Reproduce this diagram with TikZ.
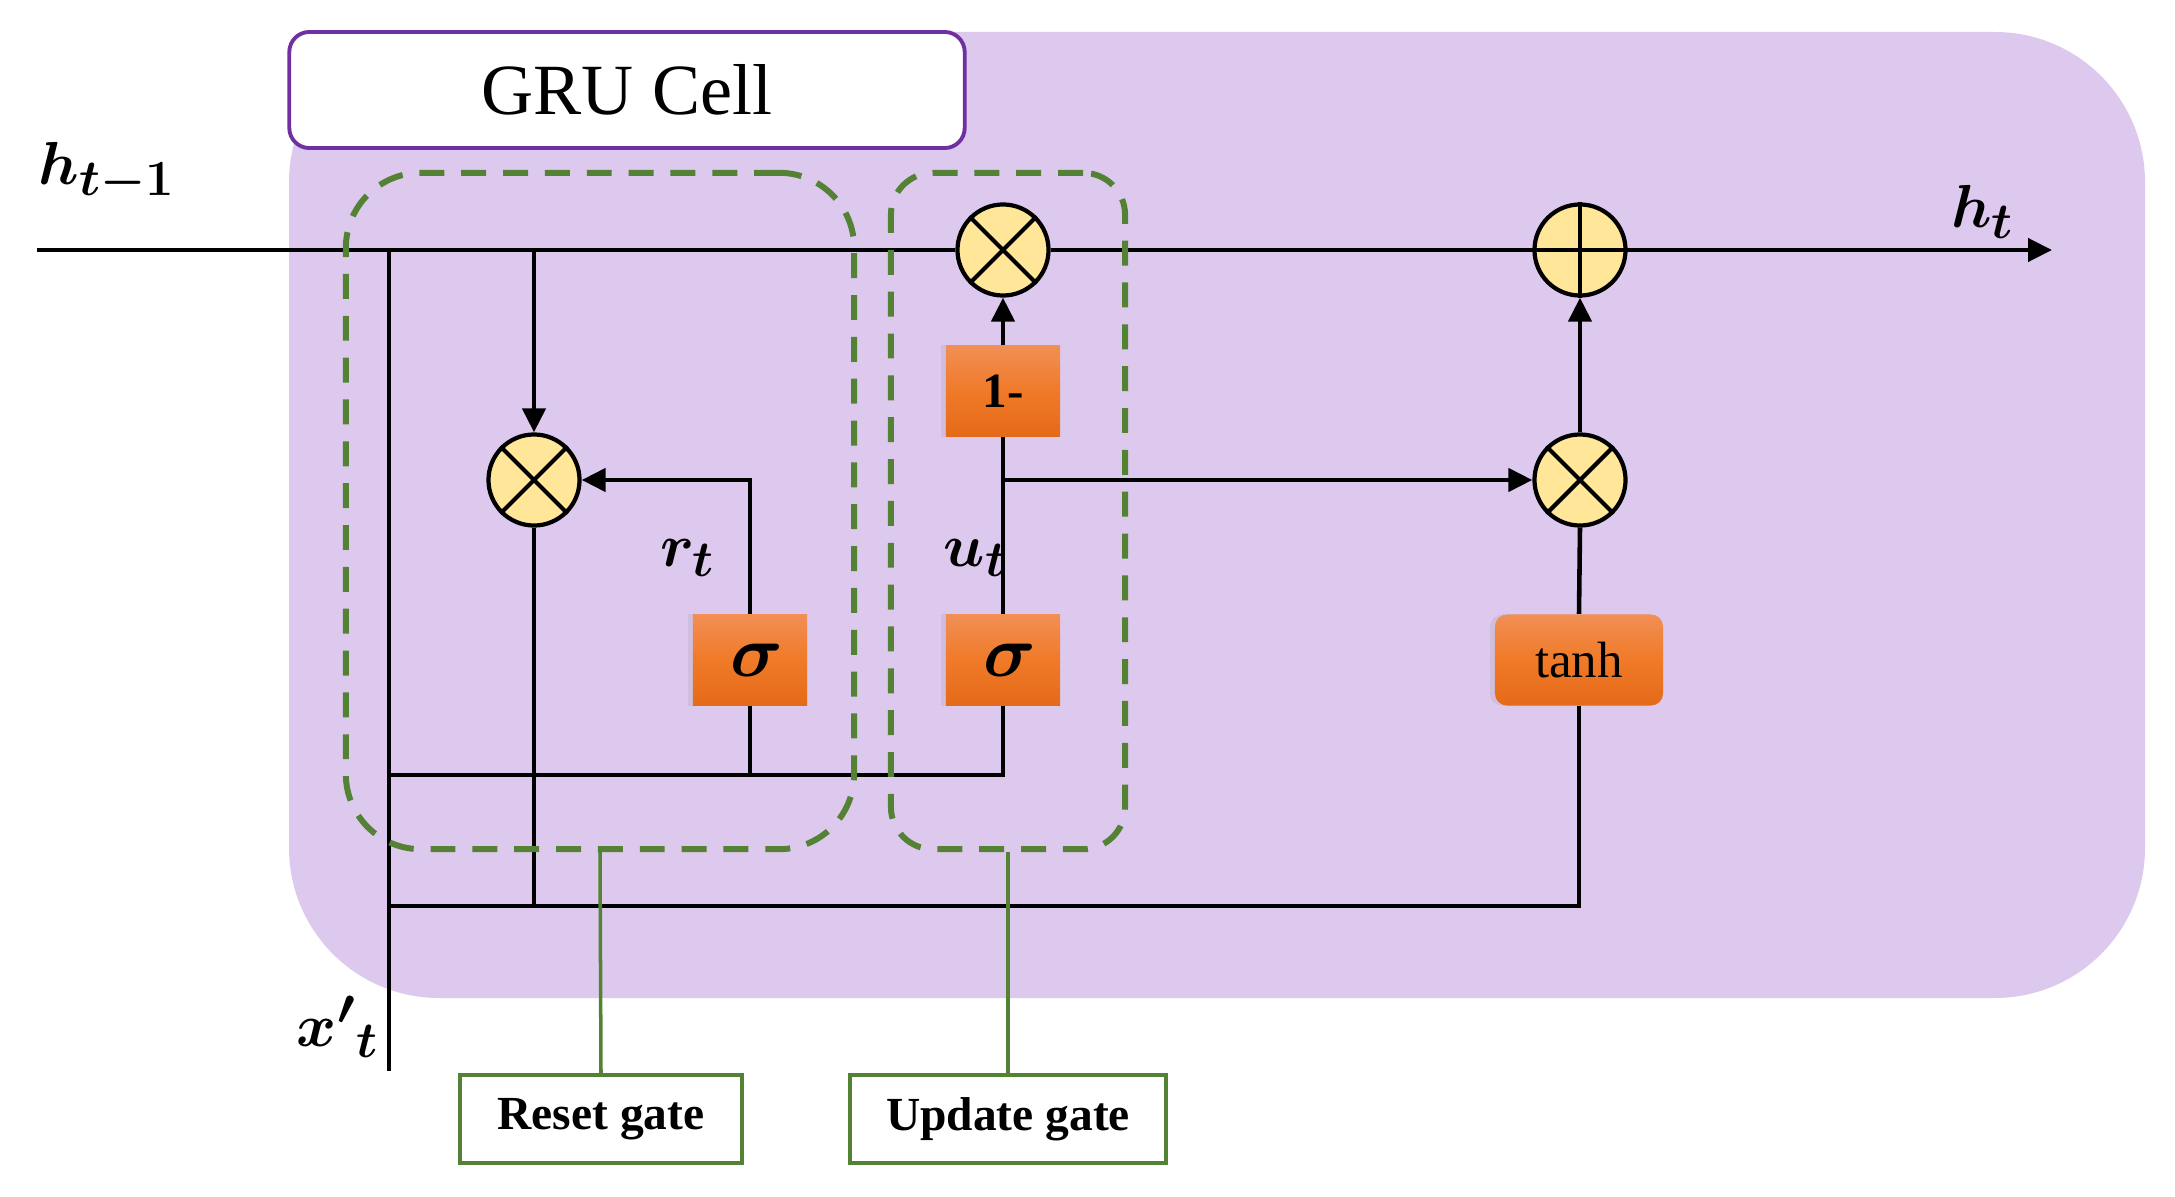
\documentclass[tikz,border=0pt]{standalone}
\usepackage{fontspec}
\setmainfont{Liberation Serif}
\usetikzlibrary{arrows.meta,shadows}
\definecolor{bgpurple}{RGB}{222,201,238}
\definecolor{gruborder}{RGB}{112,48,160}
\definecolor{circfill}{RGB}{255,230,153}
\definecolor{gateg}{RGB}{84,130,53}
\definecolor{orTop}{RGB}{241,143,85}
\definecolor{orMid}{RGB}{240,122,40}
\definecolor{orBot}{RGB}{228,106,24}
\begin{document}
\begin{tikzpicture}[x=0.01cm,y=-0.01cm,
  wire/.style={line width=1.3pt, draw=black},
  arr/.style={wire, -{Triangle[length=6.8pt,width=6.5pt]}},
  opcirc/.style={circle, draw=black, line width=1.2pt, fill=circfill, minimum size=0.91cm, inner sep=0pt},
  actbox/.style={rectangle, top color=orTop, bottom color=orBot, middle color=orMid,
     minimum width=1.14cm, minimum height=0.91cm, inner sep=0pt,
     drop shadow={shadow xshift=-1.4pt, shadow yshift=0pt, opacity=0.15}},
  dashbox/.style={draw=gateg, line width=1.7pt, dash pattern=on 7.1pt off 4.8pt, rounded corners=0.75cm, inner sep=0pt},
  labelbox/.style={draw=gateg, line width=1.1pt, fill=white, minimum height=0.88cm, inner sep=0pt,
     font=\fontsize{13.5}{16}\selectfont\bfseries},
  gline/.style={draw=gateg, line width=1pt},
  mathlbl/.style={font=\fontsize{19}{22}\selectfont\boldmath, inner sep=0pt}
]
\useasboundingbox (0,0) rectangle (2175,1197);
% background
\fill[bgpurple, rounded corners=1.5cm] (289,32) rectangle (2145,998);
% title box
\node[draw=gruborder, line width=1.1pt, fill=white, rounded corners=0.2cm,
      minimum width=6.75cm, minimum height=1.16cm, inner sep=0pt,
      font=\fontsize{20.5}{24}\selectfont] (gru) at (627,90) {GRU Cell};

% coordinates
\coordinate (hin) at (37,250);
\coordinate (hout) at (2052,250);
\coordinate (xtop) at (389,250);
\coordinate (xbot) at (389,1071);
\coordinate (bus1) at (389,775);
\coordinate (bus2) at (389,906);
\coordinate (j1) at (534,250);

% operator circles
\node[opcirc] (mr) at (534,480) {};
\node[opcirc] (mu) at (1003,250) {};
\node[opcirc] (pl) at (1580,250) {};
\node[opcirc] (mh) at (1580,480) {};

% activation boxes
\node[actbox, font=\fontsize{22}{26}\selectfont\boldmath] (sr) at (750,660) {\hspace{4pt}$\sigma$};
\node[actbox, font=\fontsize{22}{26}\selectfont\boldmath] (su) at (1003,660) {\hspace{4pt}$\sigma$};
\node[actbox, font=\fontsize{14}{16}\selectfont\bfseries] (om) at (1003,391) {1-};
\node[actbox, rounded corners=0.12cm, minimum width=1.68cm, font=\fontsize{14.5}{17}\selectfont] (th) at (1579,660) {tanh};

% wires
\draw[wire] (hin) -- (mu.west);
\draw[wire] (mu.east) -- (pl.west);
\draw[arr] (pl.east) -- (hout);
\draw[wire] (xtop) -- (xbot);
\draw[arr] (j1) -- (mr.north);
\draw[arr] (sr.north) |- (mr.east);
\draw[wire] (su.south) |- (bus1);
\draw[wire] (sr.south) -- (sr.south |- bus1);
\draw[wire] (th.south) |- (bus2);
\draw[wire] (mr.south) -- (mr.south |- bus2);
\draw[wire] (su.north) -- (om.south);
\draw[arr] (om.north) -- (mu.south);
\draw[arr] (om.south |- mh.west) -- (mh.west);
\draw[wire] (th.north) -- (mh.south);
\draw[arr] (mh.north) -- (pl.south);

% symbols in circles
\draw[line width=1.2pt] (mr.north west) -- (mr.south east) (mr.north east) -- (mr.south west);
\draw[line width=1.2pt] (mu.north west) -- (mu.south east) (mu.north east) -- (mu.south west);
\draw[line width=1.2pt] (mh.north west) -- (mh.south east) (mh.north east) -- (mh.south west);
\draw[line width=1.2pt] (pl.north) -- (pl.south) (pl.west) -- (pl.east);

% gate groups
\node[dashbox, minimum width=5.08cm, minimum height=6.76cm] (rbox) at (600,511) {};
\node[dashbox, rounded corners=0.42cm, minimum width=2.34cm, minimum height=6.76cm] (ubox) at (1008,511) {};
\node[labelbox, minimum width=2.81cm] (rg) at (601,1119) {Reset gate};
\node[labelbox, minimum width=3.15cm] (ug) at (1008,1119) {Update gate};
\draw[gline] (rbox.south) -- (rg.north);
\draw[gline] (ubox.south) -- (ug.north);

% labels
\node[mathlbl] (lh1) at (107,172) {$h_{t-1}$};
\node[mathlbl] (lht) at (1983,212) {$h_t$};
\node[mathlbl] (lrt) at (688,558) {$r_t$};
\node[mathlbl] (lut) at (976,558) {$u_t$};
\node[mathlbl] (lxt) at (338,1027) {${x'}_{t}$};
\end{tikzpicture}
\end{document}
